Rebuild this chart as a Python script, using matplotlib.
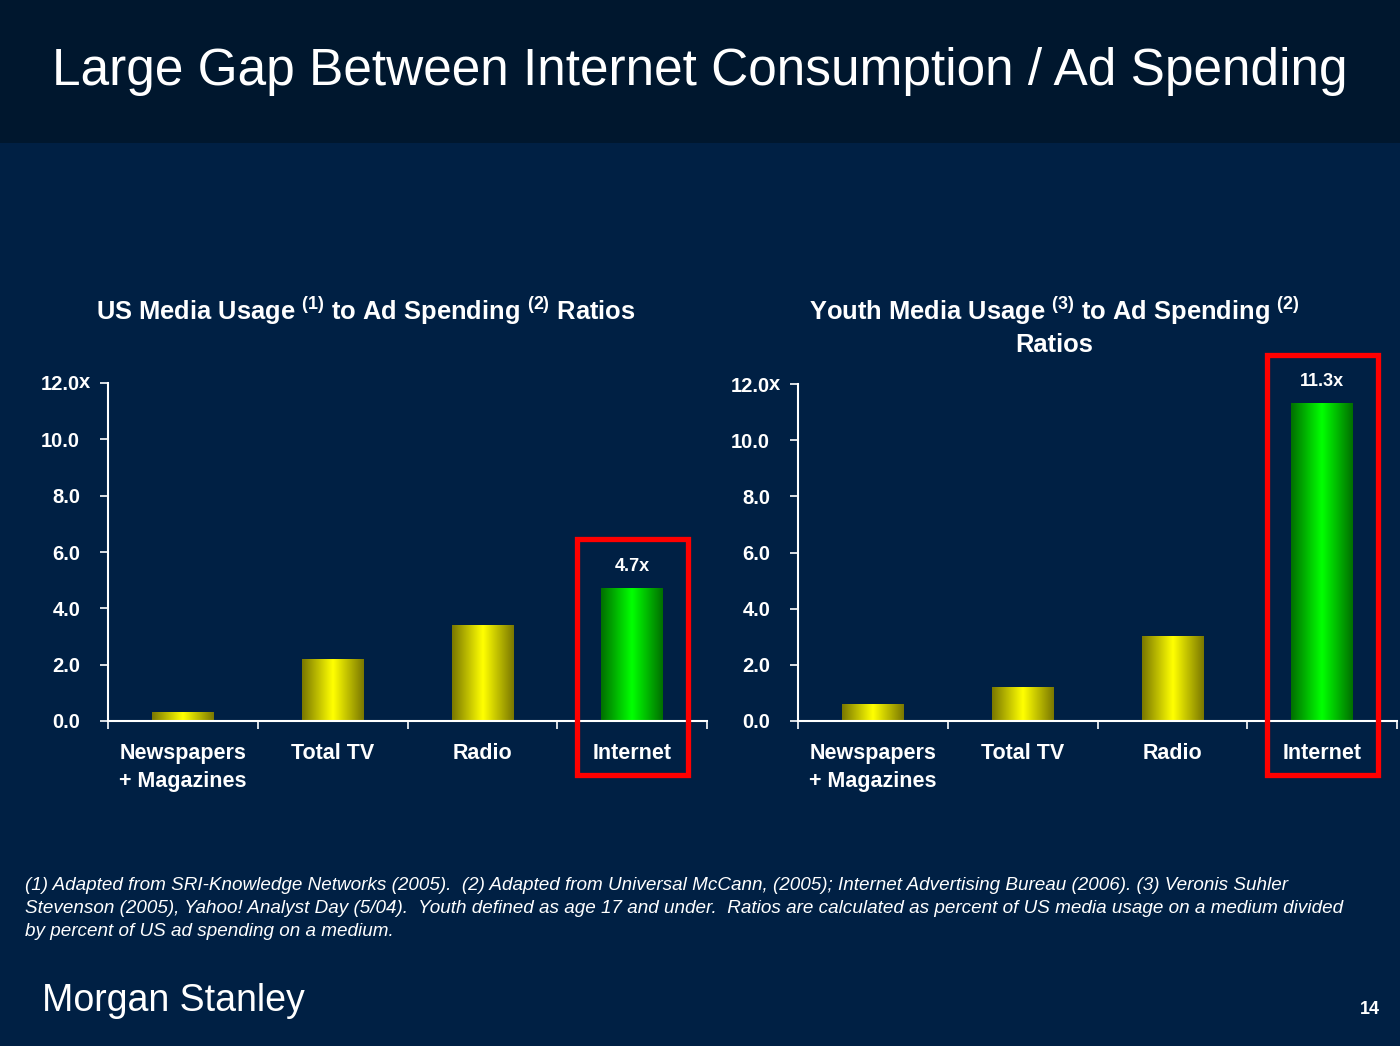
import numpy as np
import matplotlib
matplotlib.use("Agg")
import matplotlib.pyplot as plt
from matplotlib.patches import Rectangle

plt.rcParams['font.family'] = ['Liberation Sans', 'DejaVu Sans']
plt.rcParams['mathtext.fontset'] = 'custom'
plt.rcParams['mathtext.rm'] = 'Liberation Sans'
plt.rcParams['mathtext.bf'] = 'Liberation Sans:bold'

# data
categories = ["Newspapers\n+ Magazines", "Total TV", "Radio", "Internet"]
us_ratios = [0.3, 2.2, 3.4, 4.7]
youth_ratios = [0.6, 1.2, 3.0, 11.3]
y_ticks = [0, 2, 4, 6, 8, 10, 12]
y_ticklabels = ["0.0", "2.0", "4.0", "6.0", "8.0", "10.0", "12.0"]

BG = "#002044"
HEAD = "#00172e"
WHITE = "white"

fig = plt.figure(figsize=(14, 10.46), dpi=100, facecolor=BG)

# header band
fig.patches.append(Rectangle((0, 1 - 143 / 1046), 1, 143 / 1046, transform=fig.transFigure,
                             facecolor=HEAD, edgecolor="none", zorder=0))
fig.text(0.5, 1 - 71 / 1046, "Large Gap Between Internet Consumption / Ad Spending",
         ha="center", va="center", color=WHITE, fontsize=37)

grad = np.concatenate([np.linspace(0, 1, 50), np.linspace(1, 0, 50)])[None, :]
yellow_cmap = matplotlib.colors.LinearSegmentedColormap.from_list("y", ["#7a7800", "#ffff00"])
green_cmap = matplotlib.colors.LinearSegmentedColormap.from_list("g", ["#007000", "#00ff00"])


def draw_chart(ax, values):
    ax.set_facecolor(BG)
    w = 0.41
    for i, v in enumerate(values):
        cmap = green_cmap if i == 3 else yellow_cmap
        ax.imshow(grad, cmap=cmap, aspect="auto", extent=(i - w / 2, i + w / 2, 0, v),
                  zorder=2, interpolation="bicubic")
    ax.set_xlim(-0.5, 3.5)
    ax.set_ylim(0, 12)
    for s in ["top", "right"]:
        ax.spines[s].set_visible(False)
    for s in ["left", "bottom"]:
        ax.spines[s].set_color(WHITE)
        ax.spines[s].set_linewidth(1.5)
    ax.set_yticks(y_ticks)
    ax.set_yticklabels(y_ticklabels)
    ax.tick_params(axis="y", colors=WHITE, length=6, width=1.2, pad=14, labelsize=14.5)
    for lab in ax.get_yticklabels():
        lab.set_fontweight("bold")
    # the "x" on the top tick sits past the right-aligned digits
    ax.annotate("x", xy=(0, 12), xycoords=("axes fraction", "data"), xytext=(-21, 0),
                textcoords="offset points", ha="left", va="center", color=WHITE,
                fontsize=14.5, fontweight="bold", annotation_clip=False)
    ax.set_xticks([-0.5, 0.5, 1.5, 2.5, 3.5])
    ax.set_xticklabels([])
    ax.tick_params(axis="x", which="major", colors=WHITE, length=6, width=1.2)
    ax.set_xticks(range(4), minor=True)
    ax.set_xticklabels(categories, minor=True, fontsize=15.5, fontweight="bold", color=WHITE,
                       linespacing=1.45, va="top")
    ax.tick_params(axis="x", which="minor", length=0, pad=16)

    # value label and highlight box on Internet
    v = values[3]
    ax.text(3, v + 0.8, f"{v}x", ha="center", va="center", color=WHITE,
            fontsize=13, fontweight="bold")
    ax.add_patch(Rectangle((2.63, -1.92), 0.74, v + 1.75 + 1.92, fill=False,
                           edgecolor="#ff0000", linewidth=3.8, clip_on=False, zorder=5))


ax1 = fig.add_axes([108 / 1400, 1 - 721 / 1046, 599 / 1400, 338 / 1046])
ax2 = fig.add_axes([798 / 1400, 1 - 721 / 1046, 599 / 1400, 337 / 1046])
draw_chart(ax1, us_ratios)
draw_chart(ax2, youth_ratios)

fig.text(366 / 1400, 1 - 311 / 1046,
         r"US Media Usage $^{\mathbf{(1)}}$ to Ad Spending $^{\mathbf{(2)}}$ Ratios",
         ha="center", va="center", color=WHITE, fontsize=18.4, fontweight="bold")
fig.text(1054 / 1400, 1 - 311 / 1046,
         r"Youth Media Usage $^{\mathbf{(3)}}$ to Ad Spending $^{\mathbf{(2)}}$",
         ha="center", va="center", color=WHITE, fontsize=18.4, fontweight="bold")
fig.text(1054 / 1400, 1 - 345 / 1046, "Ratios",
         ha="center", va="center", color=WHITE, fontsize=18.4, fontweight="bold")

footnote = ("(1) Adapted from SRI-Knowledge Networks (2005).  (2) Adapted from Universal McCann, (2005); "
            "Internet Advertising Bureau (2006). (3) Veronis Suhler\n"
            "Stevenson (2005), Yahoo! Analyst Day (5/04).  Youth defined as age 17 and under.  "
            "Ratios are calculated as percent of US media usage on a medium divided\n"
            "by percent of US ad spending on a medium.")
fig.text(25 / 1400, 1 - 877 / 1046, footnote, ha="left", va="top", color=WHITE,
         fontsize=13.6, style="italic", linespacing=1.45)

fig.text(42 / 1400, 1 - 1001 / 1046, "Morgan Stanley", ha="left", va="center", color=WHITE,
         fontsize=27)
fig.text(1370 / 1400, 1 - 1009 / 1046, "14", ha="center", va="center", color=WHITE,
         fontsize=13, fontweight="bold")

fig.savefig("out.png", dpi=100, facecolor=BG)
